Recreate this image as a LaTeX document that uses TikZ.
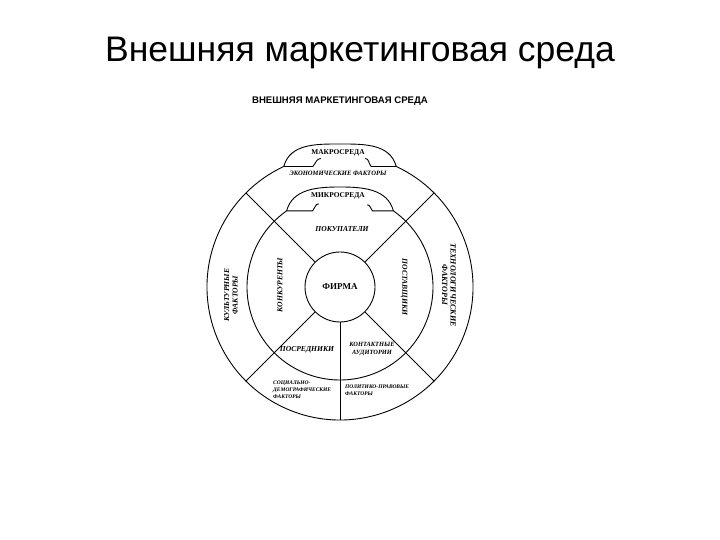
\documentclass[tikz,border=0pt]{standalone}
\usepackage{fontspec}
\setmainfont{Liberation Serif}
\newfontfamily\headfont{Liberation Sans}
\usetikzlibrary{calc}

\begin{document}
\begin{tikzpicture}[x=1pt,y=1pt,
  ln/.style={line width=0.9pt},
  lab/.style={font=\bfseries\fontsize{7.4}{8}\selectfont,inner sep=0pt,align=center},
  ilab/.style={font=\bfseries\itshape\fontsize{7.6}{8.5}\selectfont,inner sep=0pt,align=center},
  slab/.style={font=\bfseries\itshape\fontsize{5.5}{7}\selectfont,inner sep=0pt,align=left,anchor=west}]
  \useasboundingbox (0,0) rectangle (720,540);
  \coordinate (c) at (340,253);
  \node[font=\headfont\fontsize{35.5}{40}\selectfont,anchor=base] (title) at (360,478) {Внешняя маркетинговая среда};
  \node[font=\headfont\bfseries\fontsize{9.6}{11}\selectfont] (sub) at (340,439) {ВНЕШНЯЯ МАРКЕТИНГОВАЯ СРЕДА};
  \node[draw,circle,ln,minimum size=70pt,inner sep=0pt,font=\bfseries\fontsize{9}{10}\selectfont] (firm) at (c) {ФИРМА};
  % outer ring and macro tab
  \draw[ln] ($(c)+(65:133)$) coordinate (macR) arc[start angle=65,end angle=-245,radius=133] coordinate (macL);
  \draw[ln] (macL) to[out=75,in=180] (340,396) coordinate (macT) to[out=0,in=105] (macR);
  \draw[ln] (macL) -- ++(29,0) to[out=45,in=180] ++(8,8);
  \draw[ln] (macR) -- ++(-25,0) to[out=135,in=0] ++(-6,8);
  % inner ring and micro tab
  \draw[ln] ($(c)+(55:93)$) coordinate (micR) arc[start angle=55,end angle=-235,radius=93] coordinate (micL);
  \draw[ln] (micL) to[out=75,in=180] (340,353) coordinate (micT) to[out=0,in=105] (micR);
  \draw[ln] (micL) -- ++(26,0) to[out=45,in=180] ++(6,7);
  \draw[ln] (micR) -- ++(-21,0) to[out=135,in=0] ++(-5,6);
  \foreach \a in {45,135,225,270,315} \coordinate (o\a) at ($(c)+(\a:133)$);
  \foreach \a in {45,135,225,270,315} \draw[ln] (firm.\a) -- (o\a);
  \node[lab] (macro) at (338,387) {МАКРОСРЕДА};
  \node[ilab,font=\bfseries\itshape\fontsize{6.6}{8}\selectfont] (econ) at (338,367) {ЭКОНОМИЧЕСКИЕ ФАКТОРЫ};
  \node[lab] (micro) at (338,344) {МИКРОСРЕДА};
  \node[ilab] (buy) at (342,311) {ПОКУПАТЕЛИ};
  \node[ilab,rotate=90] (comp) at (280,255) {КОНКУРЕНТЫ};
  \node[ilab,rotate=90] (cult) at (231,245) {КУЛЬТУРНЫЕ\\ФАКТОРЫ};
  \node[ilab,rotate=-90] (supp) at (404,253) {ПОСТАВЩИКИ};
  \node[ilab,rotate=-90,font=\bfseries\itshape\fontsize{8}{8.5}\selectfont] (tech) at (449,255) {ТЕХНОЛОГИЧЕСКИЕ\\ФАКТОРЫ};
  \node[ilab] (inter) at (307,190) {ПОСРЕДНИКИ};
  \node[ilab,font=\bfseries\itshape\fontsize{6.4}{7.5}\selectfont] (aud) at (372,191) {КОНТАКТНЫЕ\\АУДИТОРИИ};
  \node[slab] (soc) at (273,150) {СОЦИАЛЬНО-\\ДЕМОГРАФИЧЕСКИЕ\\ФАКТОРЫ};
  \node[slab] (pol) at (345,150) {ПОЛИТИКО-ПРАВОВЫЕ\\ФАКТОРЫ};
\end{tikzpicture}
\end{document}
